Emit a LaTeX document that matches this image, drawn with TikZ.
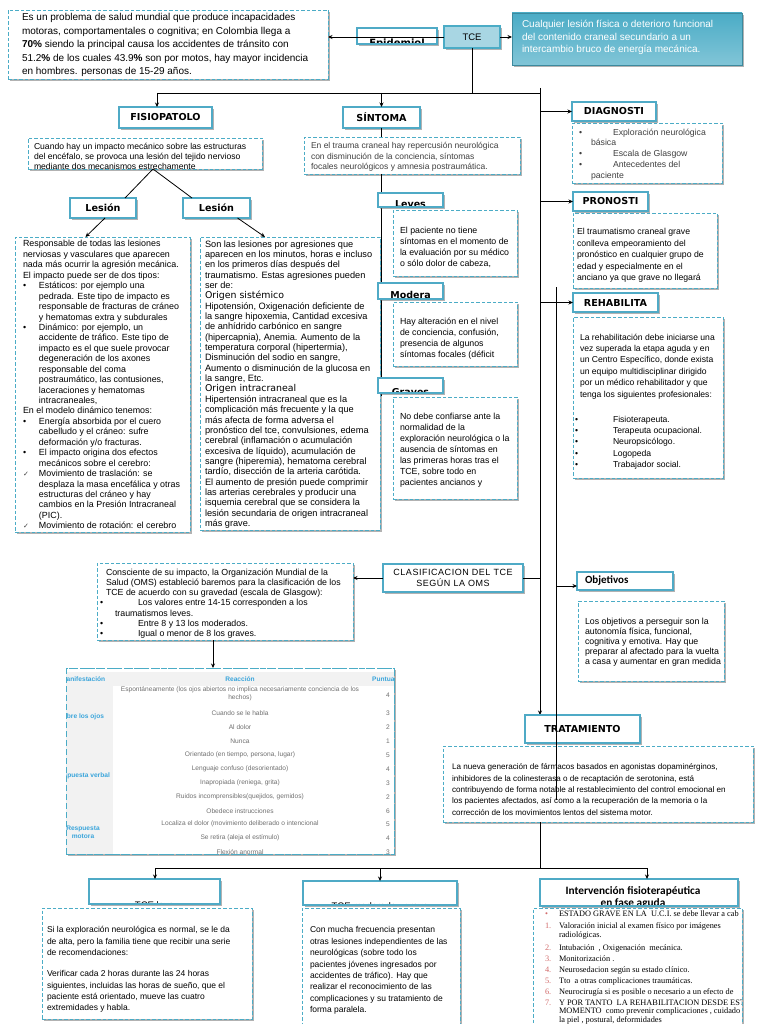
\documentclass[tikz,border=0pt]{standalone}
\usepackage{fontspec}
\setmainfont{Liberation Sans}
\newfontfamily\verdana{DejaVu Sans}
\newfontfamily\calibri{Carlito}
\newfontfamily\romana{Liberation Serif}
\usetikzlibrary{arrows.meta,shadows}

\definecolor{azulguion}{HTML}{4BACC6}
\definecolor{azultitulo}{HTML}{4FAAC6}
\definecolor{azulclaro}{HTML}{A8D6E3}
\definecolor{azuldef}{HTML}{4BACC6}
\definecolor{grisfondo}{HTML}{F2F2F2}
\definecolor{azultabla}{HTML}{3AA5DB}
\definecolor{grisletra}{HTML}{404040}
\definecolor{gristabla}{HTML}{707070}
\definecolor{rojolista}{HTML}{D26B6B}

\newcommand{\punto}{\makebox[16pt][l]{\textbullet}}
\newcommand{\sangria}{\makebox[16pt]{}}
\newcommand{\visto}{\makebox[16pt][l]{{\verdana\fontsize{7}{7}\selectfont\color{grisletra}✓}}}

\begin{document}
\begin{tikzpicture}[x=1pt, y=-1pt,
  sombra/.style={drop shadow={shadow xshift=2pt, shadow yshift=-2pt, fill=black!60, opacity=0.5}},
  caja/.style={draw=azulguion, line width=0.8pt, dash pattern=on 3.5pt off 2pt, fill=white, sombra, anchor=north west, inner sep=0pt, outer sep=0pt},
  titulo/.style={draw=azultitulo, line width=2.2pt, fill=white, sombra, anchor=north west, inner sep=0pt, outer sep=0pt, font=\verdana\bfseries\fontsize{9.6}{11}\selectfont},
  parrafo/.style 2 args={anchor=north west, inner sep=0pt, outer sep=0pt, align=left, font=\fontsize{#1}{#2}\selectfont},
  flecha/.style={-{Stealth[length=4.5pt,width=4pt]}, line width=0.8pt},
  linea/.style={line width=0.8pt},
  celda/.style={inner sep=0pt, font=\fontsize{6.6}{7.9}\selectfont, text=gristabla, align=center},
  cabeza/.style={inner sep=0pt, font=\bfseries\fontsize{6.6}{7.9}\selectfont, text=azultabla, align=center}]
\useasboundingbox (0,0) rectangle (768,1024);

% cabecera
\node[caja, minimum width=320pt, minimum height=69pt] (epitexto) at (8,10) {};
\node[parrafo={10}{13.6}] (epitxt) at (22,13.3) {Es un problema de salud mundial que produce incapacidades\\
motoras, comportamentales o cognitiva; en Colombia llega a\\
\textbf{70\%} siendo la principal causa los accidentes de tránsito con\\
51.2\textbf{\%} de los cuales 43.9\textbf{\%} son por motos, hay mayor incidencia\\
en hombres. personas de 15-29 años.};

\node[titulo, minimum width=80pt, minimum height=16pt] (epidemiol) at (357,28) {};
\begin{scope}
  \clip ([shift={(1.1pt,-1.1pt)}]epidemiol.north west) rectangle ([shift={(-1.1pt,1.1pt)}]epidemiol.south east);
  \node[anchor=base, font=\verdana\bfseries\fontsize{10}{12}\selectfont] (epidemioltxt) at ([yshift=-2.5pt]epidemiol.south) {Epidemiol};
\end{scope}

\node[anchor=north west, minimum width=56pt, minimum height=22pt, inner sep=0pt, outer sep=0pt, fill=azulclaro, draw=azulguion, line width=1.4pt, sombra, font=\fontsize{9.5}{11}\selectfont] (tce) at (444,26) {TCE};

\node[anchor=north west, minimum width=230pt, minimum height=52pt, inner sep=0pt, outer sep=0pt, top color=azuldef, bottom color=azuldef!70!white, draw=azuldef!80!black, line width=0.5pt, sombra] (definicion) at (512,13) {};
\node[parrafo={10}{12.5}, text=white] (definiciontxt) at (522,20.3) {Cualquier lesión física o deterioro funcional\\
del contenido craneal secundario a un\\
intercambio bruco de energía mecánica.};

\draw[flecha] (tce.west) -- (tce.west -| epitexto.east);
\draw[flecha] (tce.east) -- (tce.east -| definicion.west);

% ramas principales
\coordinate (ramaizq) at (157,93);
\coordinate (troncoA) at (540,88);
\coordinate (troncoB) at (556,287);
\draw[linea] (tce.south) -- (tce.south |- ramaizq);
\draw[linea] (ramaizq) -- (troncoA |- ramaizq);

% fisiopatologia
\node[titulo, minimum width=93pt, minimum height=21pt] (fisio) at (119,107) {FISIOPATOLO};
\node[caja, minimum width=234pt, minimum height=31pt] (fisiotexto) at (28,138) {};
\begin{scope}
  \clip ([shift={(0.4pt,-0.4pt)}]fisiotexto.north west) rectangle ([shift={(-0.4pt,0.4pt)}]fisiotexto.south east);
  \node[parrafo={8.6}{10}] (fisiotxt) at (34,142.7) {Cuando hay un impacto mecánico sobre las estructuras\\
del encéfalo, se provoca una lesión del tejido nervioso\\
mediante dos mecanismos estrechamente};
\end{scope}
\draw[flecha] (ramaizq) -- (ramaizq |- fisio.north);

\coordinate (vertice) at ([xshift=8pt]fisiotexto.south);
\node[titulo, minimum width=66pt, minimum height=20pt] (lesionA) at (70,198) {Lesión};
\node[titulo, minimum width=67pt, minimum height=20pt] (lesionB) at (183,198) {Lesión};
\draw[linea] (vertice) -- ([xshift=-11pt]lesionA.north east);
\draw[linea] (vertice) -- ([xshift=9pt]lesionB.north west);

\node[caja, minimum width=175pt, minimum height=295pt] (lesionAtexto) at (15,237) {};
\node[parrafo={8.9}{10.44}] (lesionAtxt) at (23,240.5) {Responsable de todas las lesiones\\
nerviosas y vasculares que aparecen\\
nada más ocurrir la agresión mecánica.\\
El impacto puede ser de dos tipos:\\
\punto Estáticos: por ejemplo una\\
\sangria pedrada. Este tipo de impacto es\\
\sangria responsable de fracturas de cráneo\\
\sangria y hematomas extra y subdurales\\
\punto Dinámico: por ejemplo, un\\
\sangria accidente de tráfico. Este tipo de\\
\sangria impacto es el que suele provocar\\
\sangria degeneración de los axones\\
\sangria responsable del coma\\
\sangria postraumático, las contusiones,\\
\sangria laceraciones y hematomas\\
\sangria intracraneales,\\
En el modelo dinámico tenemos:\\
\punto Energía absorbida por el cuero\\
\sangria cabelludo y el cráneo: sufre\\
\sangria deformación y/o fracturas.\\
\punto El impacto origina dos efectos\\
\sangria mecánicos sobre el cerebro:\\
\visto Movimiento de traslación: se\\
\sangria desplaza la masa encefálica y otras\\
\sangria estructuras del cráneo y hay\\
\sangria cambios en la Presión Intracraneal\\
\sangria (PIC).\\
\visto Movimiento de rotación: el cerebro};

\node[caja, minimum width=180pt, minimum height=293pt] (lesionBtexto) at (200,237) {};
\node[parrafo={9.2}{10.35}] (lesionBtxt) at (205,240.4) {Son las lesiones por agresiones que\\
aparecen en los minutos, horas e incluso\\
en los primeros días después del\\
traumatismo. Estas agresiones pueden\\
ser de:\\
{\verdana\fontsize{9.4}{10.35}\selectfont Origen sistémico}\\
Hipotensión, Oxigenación deficiente de\\
la sangre hipoxemia, Cantidad excesiva\\
de anhídrido carbónico en sangre\\
(hipercapnia), Anemia. Aumento de la\\
temperatura corporal (hipertermia),\\
Disminución del sodio en sangre,\\
Aumento o disminución de la glucosa en\\
la sangre, Etc.\\
{\verdana\fontsize{9.4}{10.35}\selectfont Origen intracraneal}\\
Hipertensión intracraneal que es la\\
complicación más frecuente y la que\\
más afecta de forma adversa el\\
pronóstico del tce, convulsiones, edema\\
cerebral (inflamación o acumulación\\
excesiva de líquido), acumulación de\\
sangre (hiperemia), hematoma cerebral\\
tardío, disección de la arteria carótida.\\
El aumento de presión puede comprimir\\
las arterias cerebrales y producir una\\
isquemia cerebral que se considera la\\
lesión secundaria de origen intracraneal\\
más grave.};

\draw[flecha] ([xshift=2pt]lesionA.south) -- ([xshift=-17pt]lesionAtexto.north);
\draw[flecha] ([xshift=21pt]lesionB.south) -- ([xshift=-25pt]lesionBtexto.north);

% sintomas
\node[titulo, minimum width=77pt, minimum height=21pt] (sintoma) at (343,107) {SÍNTOMA};
\node[caja, minimum width=216pt, minimum height=37pt] (sintomatexto) at (304,137) {};
\node[parrafo={8.5}{10.5}, text=grisletra] (sintomatxt) at (311,142.7) {En el trauma craneal hay repercusión neurológica\\
con disminución de la conciencia, síntomas\\
focales neurológicos y amnesia postraumática.};
\draw[flecha] (sintoma.north |- ramaizq) -- (sintoma.north);
\draw[linea] (sintoma.south) -- (sintoma.south |- sintomatexto.north);
\coordinate (finsintoma) at ([yshift=-222pt]sintoma.south |- sintomatexto.south);
\draw[linea] (sintoma.south |- sintomatexto.south) -- (finsintoma);

\node[titulo, minimum width=65pt, minimum height=14pt] (leves) at (378,193) {};
\begin{scope}
  \clip ([shift={(1.1pt,-1.1pt)}]leves.north west) rectangle ([shift={(-1.1pt,1.1pt)}]leves.south east);
  \node[anchor=base, font=\verdana\bfseries\fontsize{9.5}{11}\selectfont] (levestxt) at ([yshift=-1pt]leves.south) {Leves};
\end{scope}
\node[caja, minimum width=124pt, minimum height=66pt] (levestexto) at (393,210) {};
\node[parrafo={8.8}{11}] (levestxtb) at (400,227.6) {El paciente no tiene\\
síntomas en el momento de\\
la evaluación por su médico\\
o sólo dolor de cabeza,};

\node[titulo, minimum width=65pt, minimum height=16pt] (moderada) at (378,283) {};
\begin{scope}
  \clip ([shift={(1.1pt,-1.1pt)}]moderada.north west) rectangle ([shift={(-1.1pt,1.1pt)}]moderada.south east);
  \node[anchor=base, font=\verdana\bfseries\fontsize{9.5}{11}\selectfont] (moderadatxt) at ([yshift=1pt]moderada.south) {Modera};
\end{scope}
\node[caja, minimum width=124pt, minimum height=64pt] (moderadatexto) at (393,302) {};
\node[parrafo={8.8}{11}] (moderadatxtb) at (400,317.6) {Hay alteración en el nivel\\
de conciencia, confusión,\\
presencia de algunos\\
síntomas focales (déficit};

\node[titulo, minimum width=65pt, minimum height=15pt] (graves) at (378,378) {};
\begin{scope}
  \clip ([shift={(1.1pt,-1.1pt)}]graves.north west) rectangle ([shift={(-1.1pt,1.1pt)}]graves.south east);
  \node[anchor=base, font=\verdana\bfseries\fontsize{9.5}{11}\selectfont] (gravestxt) at ([yshift=-2.5pt]graves.south) {Graves};
\end{scope}
\node[caja, minimum width=124pt, minimum height=102pt] (gravestexto) at (393,397) {};
\node[parrafo={8.8}{11}] (gravestxtb) at (400,413.6) {No debe confiarse ante la\\
normalidad de la\\
exploración neurológica o la\\
ausencia de síntomas en\\
las primeras horas tras el\\
TCE, sobre todo en\\
pacientes ancianos y};

% columna derecha
\draw[flecha] (troncoA) -- (troncoA |- 0,715);
\node[titulo, minimum width=84pt, minimum height=19pt] (diagnostico) at (572,102) {DIAGNOSTI};
\node[caja, minimum width=150pt, minimum height=60pt] (diagtexto) at (572,123) {};
\node[parrafo={8.7}{10.8}, text=grisletra] (diagtxt) at (579,128.6) {\makebox[34pt][l]{\textbullet}Exploración neurológica\\
\hspace*{12pt}básica\\
\makebox[34pt][l]{\textbullet}Escala de Glasgow\\
\makebox[34pt][l]{\textbullet}Antecedentes del\\
\hspace*{12pt}paciente};
\draw[flecha] (diagnostico.west -| troncoA) -- (diagnostico.west);

\node[titulo, minimum width=75pt, minimum height=19pt] (pronostico) at (573,192) {PRONOSTI};
\node[caja, minimum width=144pt, minimum height=75pt] (pronostexto) at (573,213) {};
\node[parrafo={8.7}{11.5}] (pronostxt) at (577,228.6) {El traumatismo craneal grave\\
conlleva empeoramiento del\\
pronóstico en cualquier grupo de\\
edad y especialmente en el\\
anciano ya que grave no llegará};
\draw[flecha] (pronostico.west -| troncoA) -- (pronostico.west);

\node[titulo, minimum width=85pt, minimum height=19pt] (rehabilita) at (573,293) {REHABILITA};
\node[caja, minimum width=150pt, minimum height=161pt] (rehabtexto) at (573,317) {};
\node[parrafo={8.6}{11.4}] (rehabtxt) at (575,333.7) {\hspace*{5pt}La rehabilitación debe iniciarse una\\
\hspace*{5pt}vez superada la etapa aguda y en\\
\hspace*{5pt}un Centro Específico, donde exista\\
\hspace*{5pt}un equipo multidisciplinar dirigido\\
\hspace*{5pt}por un médico rehabilitador y que\\
\hspace*{5pt}tenga los siguientes profesionales:\\[13.6pt]
\makebox[38pt][l]{\textbullet}Fisioterapeuta.\\
\makebox[38pt][l]{\textbullet}Terapeuta ocupacional.\\
\makebox[38pt][l]{\textbullet}Neuropsicólogo.\\
\makebox[38pt][l]{\textbullet}Logopeda\\
\makebox[38pt][l]{\textbullet}Trabajador social.};
\draw[flecha] (rehabilita.west -| troncoA) -- (rehabilita.west);

% clasificacion
\node[anchor=north west, minimum width=140pt, minimum height=28pt, inner sep=0pt, outer sep=0pt, draw=azultitulo, line width=2.2pt, fill=white, sombra, align=center, font=\fontsize{9}{11.5}\selectfont\addfontfeatures{LetterSpace=6}] (clasif) at (383,564) {CLASIFICACION DEL TCE\\ SEGÚN LA OMS};
\node[caja, minimum width=256pt, minimum height=77pt] (clasiftexto) at (97,563) {};
\begin{scope}
  \clip ([shift={(0.4pt,-0.4pt)}]clasiftexto.north west) rectangle ([shift={(-0.4pt,0.4pt)}]clasiftexto.south east);
  \node[parrafo={8.8}{10.3}] (clasiftxt) at (106,568.6) {Consciente de su impacto, la Organización Mundial de la\\
Salud (OMS) estableció baremos para la clasificación de los\\
TCE de acuerdo con su gravedad (escala de Glasgow):\\
\hspace*{-6pt}\makebox[38pt][l]{\textbullet}Los valores entre 14-15 corresponden a los\\
\hspace*{9pt}traumatismos leves.\\
\hspace*{-6pt}\makebox[38pt][l]{\textbullet}Entre 8 y 13 los moderados.\\
\hspace*{-6pt}\makebox[38pt][l]{\textbullet}Igual o menor de 8 los graves.};
\end{scope}
\draw[flecha] (clasif.west) -- (clasif.west -| clasiftexto.east);
\draw[linea] (clasif.east) -- (clasif.east -| troncoA);

% escala de Glasgow
\node[caja, minimum width=328pt, minimum height=186pt] (tabla) at (66,668) {};
\coordinate (flechatabla) at ([xshift=-12pt]clasiftexto.south);
\draw[flecha] (flechatabla) -- (flechatabla |- tabla.north);
\begin{scope}
  \clip (tabla.north west) rectangle (tabla.south east);
  \fill[grisfondo] (66,672) rectangle (394,686);
  \fill[grisfondo] (66,686) rectangle (113,854);
  \node[cabeza, anchor=west] (cabmanif) at (61,679) {Manifestación};
  \node[cabeza] (cabreac) at (240,679) {Reacción};
  \node[cabeza, anchor=west] (cabpunt) at (372,679) {Puntuación};
  \node[cabeza, anchor=west] (ojos) at (62,717) {Abre los ojos};
  \node[cabeza, anchor=west] (verbal) at (55,776) {Respuesta verbal};
  \node[cabeza] (motora) at (83,832) {Respuesta\\ motora};
  \node[celda] (r1) at (240,694) {Espontáneamente (los ojos abiertos no implica necesariamente conciencia de los\\ hechos)};
  \node[celda] (p1) at (388,695) {4};
  \node[celda] (r2) at (240,713) {Cuando se le habla};
  \node[celda] (p2) at (388,713) {3};
  \node[celda] (r3) at (240,727) {Al dolor};
  \node[celda] (p3) at (388,727) {2};
  \node[celda] (r4) at (240,741) {Nunca};
  \node[celda] (p4) at (388,741) {1};
  \node[celda] (r5) at (240,755) {Orientado (en tiempo, persona, lugar)};
  \node[celda] (p5) at (388,755) {5};
  \node[celda] (r6) at (240,769) {Lenguaje confuso (desorientado)};
  \node[celda] (p6) at (388,769) {4};
  \node[celda] (r7) at (240,783) {Inapropiada (reniega, grita)};
  \node[celda] (p7) at (388,783) {3};
  \node[celda] (r8) at (240,797) {Ruidos incomprensibles(quejidos, gemidos)};
  \node[celda] (p8) at (388,797) {2};
  \node[celda] (r9) at (240,811) {Obedece instrucciones};
  \node[celda] (p9) at (388,811) {6};
  \node[celda] (r10) at (240,824) {Localiza el dolor (movimiento deliberado o intencional};
  \node[celda] (p10) at (388,824) {5};
  \node[celda] (r11) at (240,838) {Se retira (aleja el estímulo)};
  \node[celda] (p11) at (388,838) {4};
  \node[celda] (r12) at (240,852) {Flexión anormal};
  \node[celda] (p12) at (388,852) {3};
\end{scope}
\draw[draw=azulguion, line width=0.8pt, dash pattern=on 6pt off 3pt] (tabla.north west) rectangle (tabla.south east);

% objetivos
\node[titulo, minimum height=18pt, text width=80pt, inner xsep=8pt, align=left, font=\calibri\bfseries\fontsize{11}{13}\selectfont] (objetivos) at (577,572) {Objetivos};
\node[caja, minimum width=146pt, minimum height=80pt] (objetivostexto) at (578,601) {};
\node[parrafo={8.8}{10}] (objetivostxt) at (585,618.6) {Los objetivos a perseguir son la\\
autonomía física, funcional,\\
cognitiva y emotiva. Hay que\\
preparar al afectado para la vuelta\\
a casa y aumentar en gran medida};
\coordinate (objflecha) at ([yshift=-5pt]objetivos.west);
\draw[flecha] (objflecha -| troncoB) -- (objflecha);

% tratamiento
\node[titulo, minimum width=115pt, minimum height=28pt] (tratamiento) at (525,715) {TRATAMIENTO};
\node[caja, minimum width=310pt, minimum height=76pt] (tratatexto) at (443,746) {};
\node[parrafo={8.1}{11.3}] (tratatxt) at (452,764) {La nueva generación de fármacos basados en agonistas dopaminérginos,\\
inhibidores de la colinesterasa o de recaptación de serotonina, está\\
contribuyendo de forma notable al restablecimiento del control emocional en\\
los pacientes afectados, así como a la recuperación de la memoria o la\\
corrección de los movimientos lentos del sistema motor.};
\coordinate (finB) at (556,800);
\draw[linea] (troncoB) -- (finB);

% ramas inferiores
\coordinate (ramabaja) at (155,868);
\coordinate (ramafin) at (647,868);
\draw[linea] (tratatexto.south -| troncoA) -- (troncoA |- ramabaja);
\draw[linea] (ramabaja) -- (ramafin);

\node[titulo, minimum width=131pt, minimum height=25pt] (tceleve) at (89,879) {};
\begin{scope}
  \clip ([shift={(1.1pt,-1.1pt)}]tceleve.north west) rectangle ([shift={(-1.1pt,1.1pt)}]tceleve.south east);
  \node[anchor=base, font=\fontsize{9.5}{11}\selectfont] (tcelevetxt) at ([yshift=-4pt]tceleve.south) {TCE leve};
\end{scope}
\node[caja, minimum width=210pt, minimum height=111pt] (tcelevetexto) at (42,908) {};
\node[parrafo={8.5}{11.3}] (tcelevetxtb) at (47,926.7) {Si la exploración neurológica es normal, se le da\\
de alta, pero la familia tiene que recibir una serie\\
de recomendaciones:\\[10pt]
Verificar cada 2 horas durante las 24 horas\\
siguientes, incluidas las horas de sueño, que el\\
paciente está orientado, mueve las cuatro\\
extremidades y habla.};
\draw[flecha] (ramabaja) -- (ramabaja |- tceleve.north);

\node[titulo, minimum width=154pt, minimum height=24pt] (tcemod) at (303,881) {};
\begin{scope}
  \clip ([shift={(1.1pt,-1.1pt)}]tcemod.north west) rectangle ([shift={(-1.1pt,1.1pt)}]tcemod.south east);
  \node[anchor=base, font=\fontsize{9.5}{11}\selectfont] (tcemodtxt) at ([yshift=-4pt]tcemod.south) {TCE moderado - grave};
\end{scope}
\node[caja, minimum width=158pt, minimum height=125pt] (tcemodtexto) at (302,908) {};
\node[parrafo={8.5}{11.4}] (tcemodtxtb) at (310,926.7) {Con mucha frecuencia presentan\\
otras lesiones independientes de las\\
neurológicas (sobre todo los\\
pacientes jóvenes ingresados por\\
accidentes de tráfico). Hay que\\
realizar el reconocimiento de las\\
complicaciones y su tratamiento de\\
forma paralela.};
\draw[flecha] (tcemod.north |- ramabaja) -- (tcemod.north);

\node[titulo, minimum width=198pt, minimum height=27pt] (interv) at (540,879) {};
\begin{scope}
  \clip ([shift={(1.1pt,-1.1pt)}]interv.north west) rectangle ([shift={(-1.1pt,1.1pt)}]interv.south east);
  \node[anchor=north, align=center, inner sep=0pt, font=\calibri\bfseries\fontsize{11.3}{12}\selectfont] (intervtxt) at (633,886.5) {Intervención fisioterapéutica\\ en fase aguda};
\end{scope}
\node[caja, minimum width=209pt, minimum height=125pt] (intervtexto) at (533,908) {};
\begin{scope}
  \clip ([shift={(0.4pt,-0.4pt)}]intervtexto.north west) rectangle ([shift={(-0.4pt,0.4pt)}]intervtexto.south east);
  \node[parrafo={8.3}{8.6}, font=\romana\fontsize{8.3}{8.6}\selectfont] (intervtxtb) at (545,910.5) {\textcolor{rojolista}{\makebox[14pt][l]{\textbullet}}ESTADO GRAVE EN LA \ U.C.I. se debe llevar a cab\\[4pt]
\textcolor{rojolista}{\makebox[14pt][l]{1.}}Valoración inicial al examen físico por imágenes\\
\hspace*{14pt}radiológicas.\\[4.2pt]
\textcolor{rojolista}{\makebox[14pt][l]{2.}}Intubación \ , Oxigenación \ mecánica.\\[2.4pt]
\textcolor{rojolista}{\makebox[14pt][l]{3.}}Monitorización .\\[2.4pt]
\textcolor{rojolista}{\makebox[14pt][l]{4.}}Neurosedacion según su estado clínico.\\[2.4pt]
\textcolor{rojolista}{\makebox[14pt][l]{5.}}Tto \ a otras complicaciones traumáticas.\\[2.4pt]
\textcolor{rojolista}{\makebox[14pt][l]{6.}}Neurocirugía si es posible o necesario a un efecto de\\[2.4pt]
\textcolor{rojolista}{\makebox[14pt][l]{7.}}Y POR TANTO \ LA REHABILITACION DESDE ESTE\\
\hspace*{14pt}MOMENTO \ como prevenir complicaciones , cuidado\\
\hspace*{14pt}la piel , postural, deformidades};
\end{scope}
\draw[flecha] (ramafin) -- (ramafin |- interv.north);
\end{tikzpicture}
\end{document}
